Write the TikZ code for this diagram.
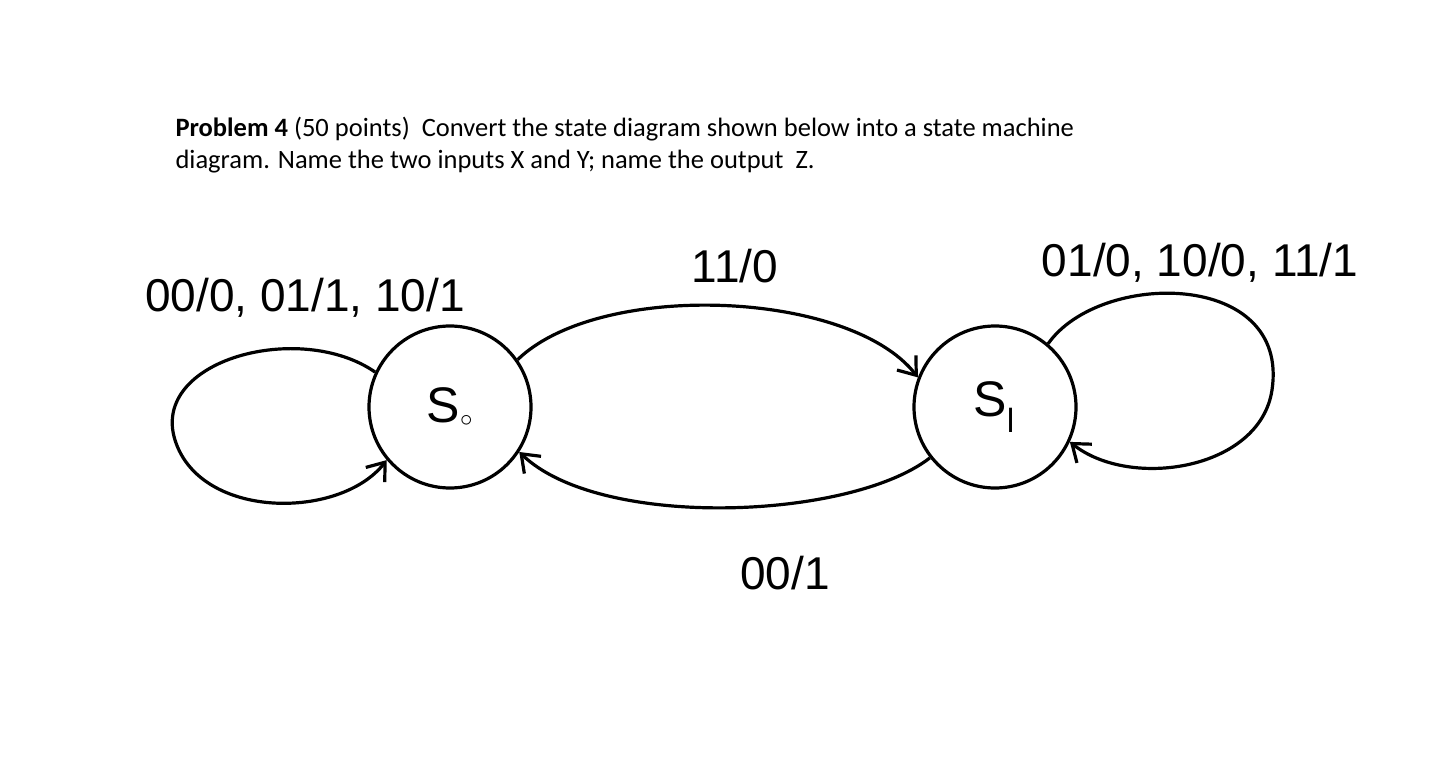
\documentclass[tikz,border=0pt]{standalone}
\usepackage{fontspec}
\setmainfont{Carlito}
\newfontfamily\hand{Liberation Sans}
\usetikzlibrary{arrows.meta}
\begin{document}
\begin{tikzpicture}[x=1pt,y=-1pt,
  st/.style={circle,draw,line width=3.2pt,minimum size=162pt,inner sep=0pt,font=\hand\fontsize{50}{50}\selectfont},
  tr/.style={line width=3.2pt,-{Straight Barb[length=16pt,width=24pt,line width=3.2pt]}},
  lab/.style={font=\hand\fontsize{46}{46}\selectfont}]
\useasboundingbox (0,0) rectangle (1440,775);
\node[anchor=base west,font=\fontsize{26.5}{30}\selectfont] (t1) at (172,137) {\textbf{Problem 4} (50 points)\ \ Convert the state diagram shown below into a state machine};
\node[anchor=base west,font=\fontsize{26.5}{30}\selectfont] (t2) at (172,169) {diagram. Name the two inputs X and Y; name the output\ \ Z.};
\node[st] (s0) at (450,407) {S$_{\circ}$};
\node[st] (s1) at (995,407) {S$_{\mathsf{I}}$};
\draw[tr] (s0.155) .. controls (300,320) and (150,360) .. (175,440) .. controls (200,520) and (340,520) .. (s0.-140);
\draw[tr] (s1.50) .. controls (1100,270) and (1290,270) .. (1272,390) .. controls (1260,470) and (1130,490) .. (s1.-25);
\draw[tr] (s0.35) .. controls (600,280) and (850,290) .. (s1.159);
\draw[tr] (s1.-142) .. controls (850,520) and (600,530) .. (s0.-33);
\node[lab] (l1) at (305,298) {00/0, 01/1, 10/1};
\node[lab] (l2) at (735,266) {11/0};
\node[lab] (l3) at (1200,263) {01/0, 10/0, 11/1};
\node[lab] (l4) at (785,573) {00/1};
\end{tikzpicture}
\end{document}
